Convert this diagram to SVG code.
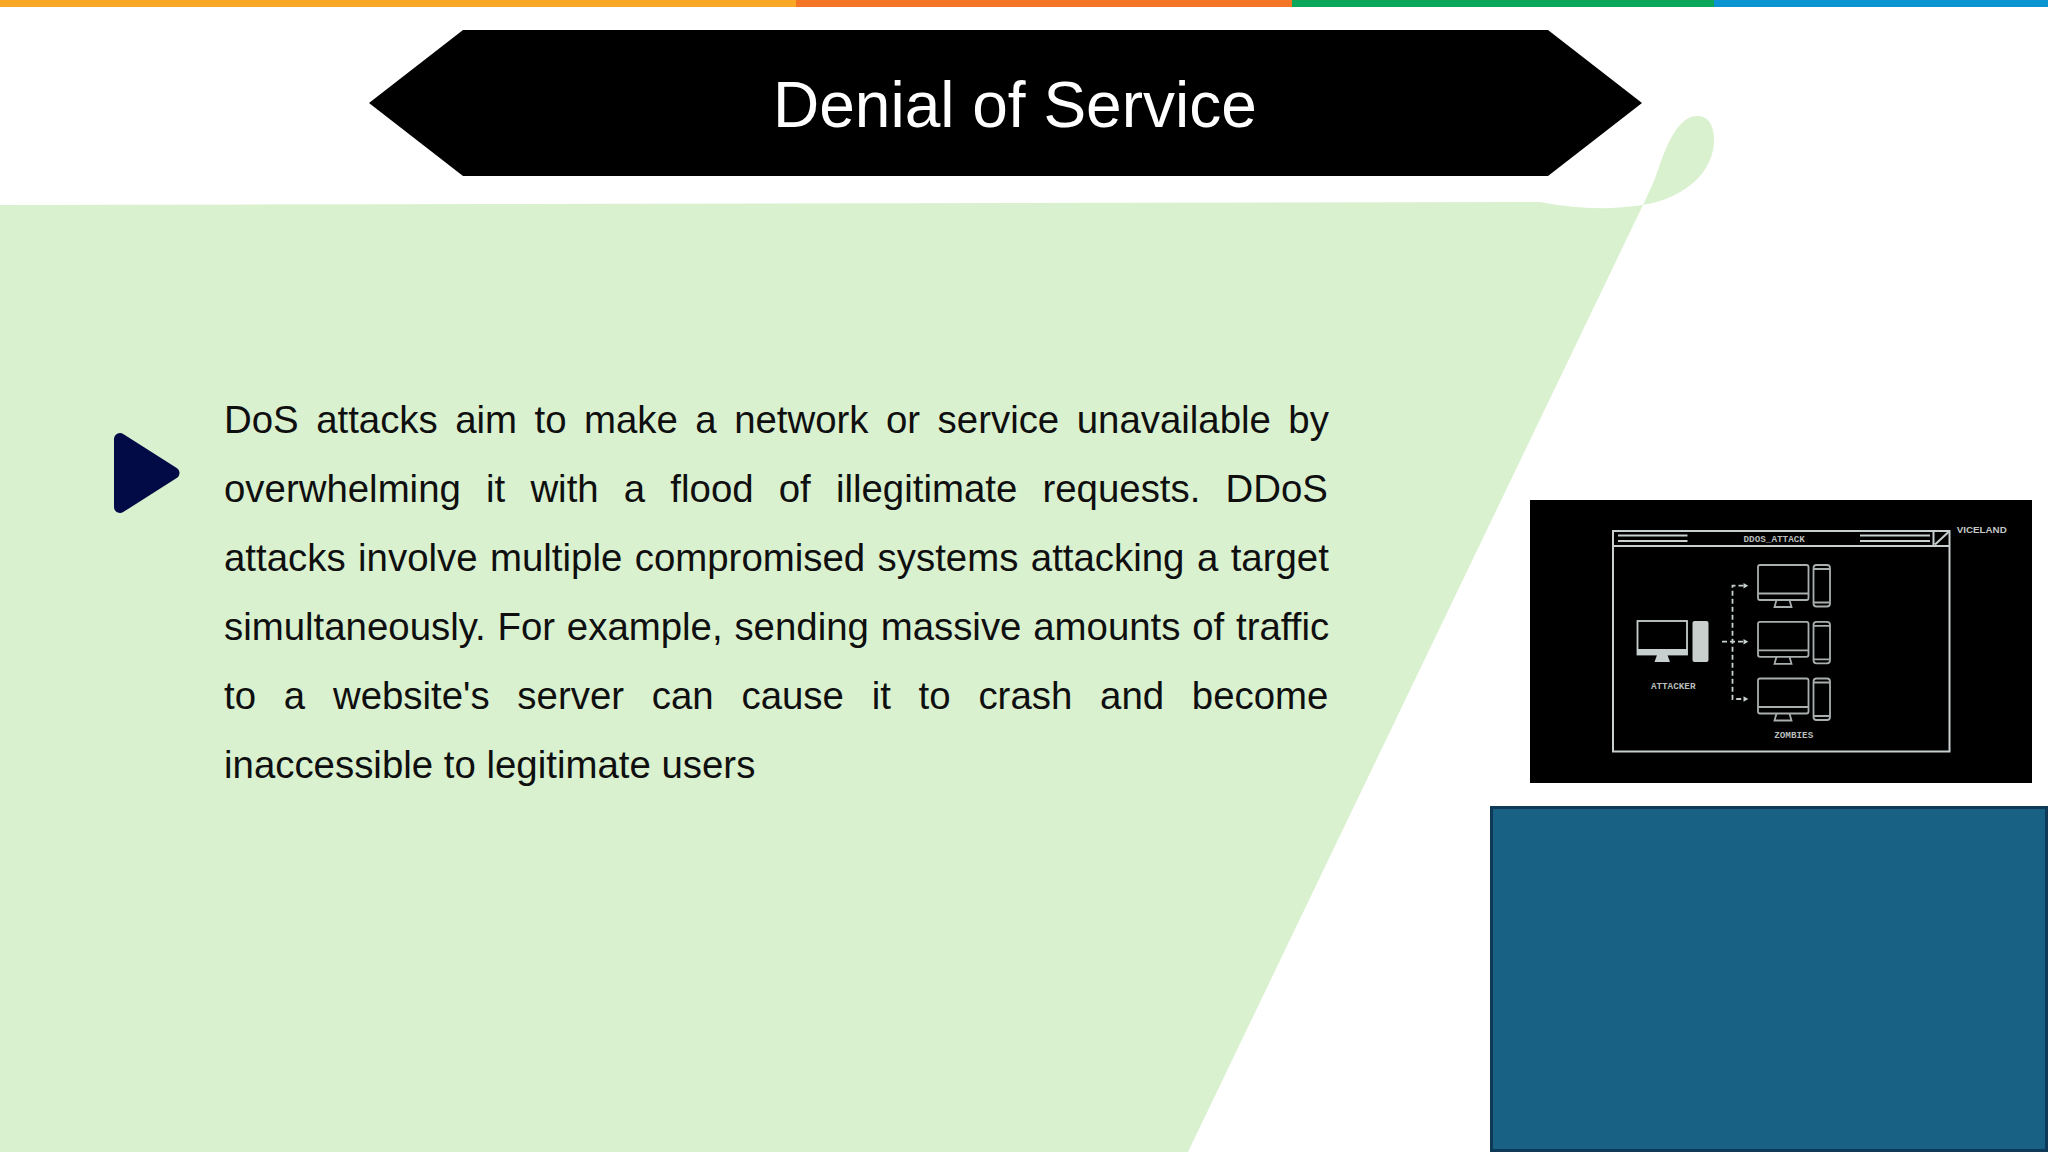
<svg xmlns="http://www.w3.org/2000/svg" width="2048" height="1152" viewBox="0 0 2048 1152">
<style>
.body{font-family:"Liberation Sans",Arial,sans-serif;font-size:38.4px;fill:#0f0f0f}
.title{font-family:"Liberation Sans",Arial,sans-serif;font-size:64px;fill:#fff}
.mono{font-family:"Liberation Mono",monospace;font-size:9.300px;fill:#b9bebd;text-anchor:middle;font-weight:bold}
.ln{fill:none;stroke:#c8cfcf;stroke-width:2}
.zm{fill:none;stroke:#a9aeae;stroke-width:1.800}
.dash{fill:none;stroke:#c8cfcf;stroke-width:1.800;stroke-dasharray:5 3}
</style>
<defs>
<filter id="soft" x="-5%" y="-5%" width="110%" height="110%"><feGaussianBlur stdDeviation="0.35"/></filter>
<g id="zombie">
<rect class="zm" x="1758" y="565" width="50.500" height="35" rx="2"/>
<path class="zm" d="M1758 593.500H1808M1776.500 600L1774.500 607H1791.500L1789.500 600"/>
<rect class="zm" x="1813.500" y="565" width="16.500" height="41.500" rx="3"/>
<path class="zm" d="M1814 569H1830M1814 602.500H1830" stroke-width="1"/>
</g>
</defs>
<g id="top-bar">
<rect x="0" y="0" width="796" height="7" fill="#f9a826"/>
<rect x="796" y="0" width="496" height="7" fill="#f47526"/>
<rect x="1292" y="0" width="422" height="7" fill="#0aa75a"/>
<rect x="1714" y="0" width="334" height="7" fill="#0a94d2"/>
</g>
<path id="background-shape" fill="#daf1cf" d="M0 205L1540 202C1575 209 1610 210 1643 205C1685 198 1714 172 1714 140C1714 122 1706 116 1697 116C1680 116 1668 140 1658 170C1654 182 1648 194 1643 205L1188 1152H0Z"/>
<g id="title-node">
<polygon points="369,103 463,30 1548,30 1642,103 1548,176 463,176" fill="#000"/>
<text class="title" x="773" y="127">Denial of Service</text>
</g>
<g id="bullet">
<path d="M120 439L173.500 473L120 507Z" fill="#020b45" stroke="#020b45" stroke-width="12" stroke-linejoin="round"/>
</g>
<g id="body-text">
<text class="body" x="224" y="433" word-spacing="6.79">DoS attacks aim to make a network or service unavailable by</text>
<text class="body" x="224" y="502" word-spacing="14.5">overwhelming it with a flood of illegitimate requests. DDoS</text>
<text class="body" x="224" y="571" word-spacing="1.77">attacks involve multiple compromised systems attacking a target</text>
<text class="body" x="224" y="640" word-spacing="1.1">simultaneously. For example, sending massive amounts of traffic</text>
<text class="body" x="224" y="709" word-spacing="17.1">to a website's server can cause it to crash and become</text>
<text class="body" x="224" y="778">inaccessible to legitimate users</text>
</g>
<g id="screenshot">
<rect x="1530" y="500" width="502" height="283" fill="#000"/>
<g filter="url(#soft)">
<rect class="ln" x="1613" y="531" width="336.500" height="220.500"/>
<path class="ln" d="M1613 546H1949M1933.500 531V546M1935 544.500L1948.500 532M1618 535.500H1687.500M1618 541H1687.500M1860 535.500H1930M1860 541H1930"/>
<rect x="1637.500" y="621" width="49.500" height="33.500" fill="none" stroke="#c8cfcf" stroke-width="1.800"/>
<rect x="1637" y="649" width="50.500" height="6" fill="#c8cfcf"/>
<path d="M1657 655H1667.500L1670 662H1654.500Z" fill="#c8cfcf"/>
<rect x="1692.500" y="621" width="16" height="41" rx="2" fill="#c8cfcc"/>
<use href="#zombie"/>
<use href="#zombie" y="56.800"/>
<use href="#zombie" y="113.500"/>
<path class="dash" d="M1743.500 585.700H1732.500V699H1743.500M1722 641.700H1743.500"/>
<path d="M1743.500 583L1748.300 585.700L1743.500 588.400ZM1743.500 639L1748.300 641.700L1743.500 644.400ZM1743.500 696.300L1748.300 699L1743.500 701.700Z" fill="#c8cfcf"/>
</g>
<text class="mono" x="1774.200" y="542">DDOS_ATTACK</text>
<text class="mono" x="1673.200" y="689.300">ATTACKER</text>
<text class="mono" x="1793.700" y="738">ZOMBIES</text>
<text x="1956.700" y="532.700" font-family="Liberation Sans,Arial,sans-serif" font-weight="bold" font-size="9.800" fill="#c4c9c8">VICELAND</text>
</g>
<rect id="blue-panel" x="1491.500" y="807.500" width="555" height="343" fill="#186084" stroke="#0f3a57" stroke-width="3"/>
</svg>
